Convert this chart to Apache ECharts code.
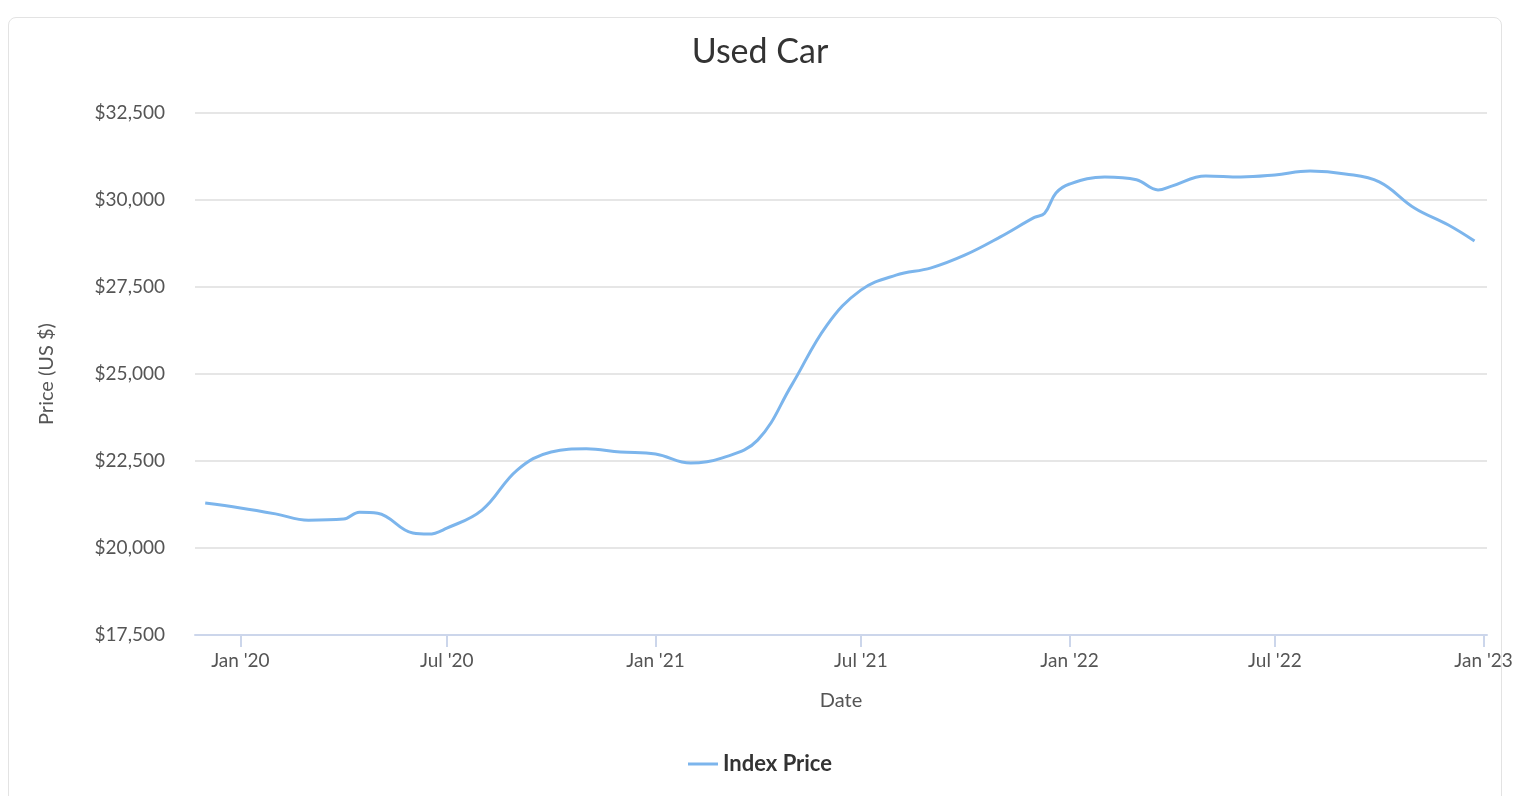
<!DOCTYPE html>
<html>
<head>
<meta charset="utf-8">
<script src="https://cdn.jsdelivr.net/npm/echarts@6/dist/echarts.min.js"></script>
<style>
html,body{margin:0;padding:0;background:#fff;}
#card{position:absolute;left:8px;top:17px;width:1494px;height:800px;border:1px solid #e3e3e3;border-radius:8px;box-sizing:border-box;}
#chart{position:absolute;left:0;top:0;width:1520px;height:796px;}
</style>
</head>
<body>
<div id="card"></div>
<div id="chart"></div>
<script>
// used car index price
var dates = ['2019-12-01','2020-01-01','2020-02-01','2020-03-01','2020-04-01','2020-04-15','2020-05-01',
	'2020-06-01','2020-06-15','2020-07-01','2020-08-01','2020-09-01','2020-10-01','2020-11-01','2020-12-01',
	'2021-01-01','2021-02-01','2021-03-01','2021-04-01','2021-05-01','2021-06-01','2021-07-01','2021-08-01',
	'2021-09-01','2021-10-01','2021-11-01','2021-12-01','2021-12-10','2021-12-20','2022-01-01','2022-02-01',
	'2022-03-01','2022-03-20','2022-04-01','2022-05-01','2022-06-01','2022-07-01','2022-08-01','2022-09-01',
	'2022-10-01','2022-11-01','2022-12-01','2022-12-24'];
var prices = [21290,21150,20980,20800,20830,21030,21000,
	20430,20400,20570,21090,22240,22760,22850,22760,
	22700,22440,22590,23100,24680,26400,27410,27840,
	28050,28420,28940,29500,29620,30200,30460,30660,
	30580,30290,30400,30690,30660,30720,30830,30750,
	30520,29770,29280,28820];
var tickDates = ['2020-01-01','2020-07-01','2021-01-01','2021-07-01','2022-01-01','2022-07-01','2023-01-01'];
var monthNames = ['Jan','Feb','Mar','Apr','May','Jun','Jul','Aug','Sep','Oct','Nov','Dec'];

var ts = function(d){ return +new Date(d + 'T00:00:00Z'); };
var ticks = tickDates.map(ts);
var seriesData = dates.map(function(d, i){ return [ts(d), prices[i]]; });

var chart = echarts.init(document.getElementById('chart'));
chart.setOption({
	animation: false,
	textStyle: {fontFamily: 'Lato, "Open Sans", sans-serif'},
	title: {
		text: 'Used Car', left: 'center', top: 30,
		textStyle: {fontSize: 34, fontWeight: 'normal', color: '#333'}
	},
	legend: {
		bottom: 16, left: 'center', itemWidth: 30, itemHeight: 3, icon: 'rect',
		textStyle: {fontSize: 22, fontWeight: 'bold', color: '#333'},
		data: ['Index Price']
	},
	grid: {left: 195, right: 33, top: 113, bottom: 161},
	xAxis: {
		type: 'value',
		min: ts('2019-11-22'),
		max: ts('2023-01-04'),
		name: 'Date', nameLocation: 'middle', nameGap: 56,
		nameTextStyle: {fontSize: 20, color: '#555'},
		axisLine: {show: true, lineStyle: {color: '#ccd6eb', width: 2}},
		axisTick: {show: true, customValues: ticks, length: 12, lineStyle: {color: '#ccd6eb', width: 2}},
		axisLabel: {
			customValues: ticks, fontSize: 19, color: '#555', margin: 16,
			showMinLabel: true, showMaxLabel: true,
			formatter: function(v){
				var d = new Date(v);
				return monthNames[d.getUTCMonth()] + " '" + String(d.getUTCFullYear()).slice(2);
			}
		},
		splitLine: {show: false}
	},
	yAxis: {
		type: 'value', min: 17500, max: 32500, interval: 2500,
		name: 'Price (US $)', nameLocation: 'middle', nameGap: 138, nameRotate: 90,
		nameTextStyle: {fontSize: 20, color: '#555'},
		axisLine: {show: false}, axisTick: {show: false},
		axisLabel: {
			fontSize: 19, color: '#555', margin: 30,
			formatter: function(v){ return '$' + v.toLocaleString('en-US'); }
		},
		splitLine: {lineStyle: {color: '#e6e6e6', width: 2}}
	},
	series: [{
		name: 'Index Price', type: 'line', data: seriesData,
		smooth: 0.4, showSymbol: false,
		lineStyle: {color: '#7cb5ec', width: 3}, itemStyle: {color: '#7cb5ec'}
	}]
});
</script>
</body>
</html>
